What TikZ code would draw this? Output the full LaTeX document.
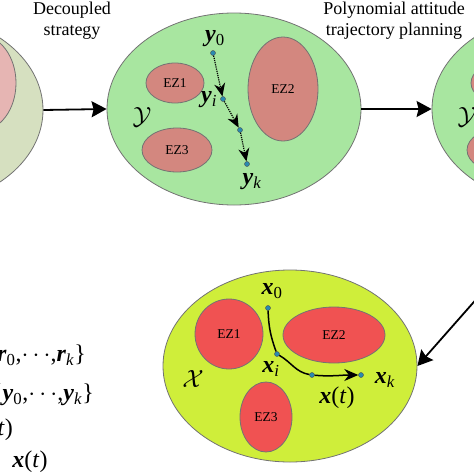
\documentclass[tikz,border=0pt]{standalone}
\usepackage{fontspec}
\setmainfont{Liberation Serif}
\usetikzlibrary{shapes.geometric, arrows.meta}

\definecolor{paleSpace}{HTML}{D6E0C0}
\definecolor{paleZone}{HTML}{E6B5B3}
\definecolor{ySpace}{HTML}{A8E6A0}
\definecolor{yZone}{HTML}{D3877F}
\definecolor{xSpace}{HTML}{CFEE3A}
\definecolor{xZone}{HTML}{F05252}
\definecolor{dotBlue}{HTML}{2A8AB0}

\newcommand{\vb}[1]{\textbf{\textit{#1}}}

\begin{document}
\begin{tikzpicture}[x=1pt, y=-1pt,
    space/.style={ellipse, draw=black!55, line width=0.8pt, minimum width=254pt, minimum height=192pt},
    zone/.style={ellipse, draw=black!55, line width=0.8pt, inner sep=0pt, font=\fontsize{13.5}{13.5}\selectfont},
    flow/.style={line width=1.8pt, -{Stealth[length=15pt,width=16pt,inset=2pt]}},
    dot/.style={circle, fill=dotBlue, draw=black!70, line width=0.4pt, inner sep=0pt, minimum size=5pt},
    vec/.style={font=\fontsize{24}{24}\selectfont, inner sep=0pt},
    title/.style={font=\fontsize{18}{21}\selectfont, align=center, inner sep=0pt},
    ytraj/.style={densely dotted, line width=1.2pt, -{Stealth[length=13pt,width=11pt]}},
    xtraj/.style={line width=1.5pt, -{Stealth[length=14pt,width=12pt]}}]

    \useasboundingbox (0,0) rectangle (474,474);
    \clip (0,0) rectangle (474,474);

    % titles
    \node[title] (t1) at (72,21) {Decoupled\\strategy};
    \node[title] (t2) at (394,21) {Polynomial attitude\\trajectory planning};

    % spaces
    \node[space, fill=paleSpace] (spaceA) at (-84,110) {};
    \node[zone, fill=paleZone, minimum width=72pt, minimum height=96pt] (pz) at (-20,83) {};

    \node[space, fill=ySpace] (spaceB) at (234,109) {};
    \node[zone, fill=yZone, minimum width=58pt, minimum height=40pt] (ez1) at (175,83) {EZ1};
    \node[zone, fill=yZone, minimum width=70pt, minimum height=104pt] (ez2) at (283,89) {EZ2};
    \node[zone, fill=yZone, minimum width=70pt, minimum height=44pt] (ez3) at (177,150) {EZ3};
    \node[font=\fontsize{25}{25}\selectfont] (ly) at (142,117) {$\mathcal{Y}$};

    \node[space, fill=ySpace] (spaceC) at (559,109) {};
    \node[zone, fill=yZone, minimum width=58pt, minimum height=40pt] (cz1) at (500,83) {};
    \node[zone, fill=yZone, minimum width=70pt, minimum height=44pt] (cz3) at (502,150) {};
    \node[font=\fontsize{25}{25}\selectfont] (ly2) at (467,117) {$\mathcal{Y}$};

    \node[space, fill=xSpace] (spaceX) at (290,366) {};
    \node[zone, fill=xZone, minimum width=68pt, minimum height=70pt] (xz1) at (229,334) {EZ1};
    \node[zone, fill=xZone, minimum width=102pt, minimum height=56pt] (xz2) at (334,335) {EZ2};
    \node[zone, fill=xZone, minimum width=52pt, minimum height=70pt] (xz3) at (266,417) {EZ3};
    \node[font=\fontsize{25}{25}\selectfont] (lx) at (193,379) {$\mathcal{X}$};

    \draw[flow] (spaceA.east) -- (spaceB.west);
    \draw[flow] (spaceB.east) -- (spaceC.west);
    \draw[flow] (spaceC.south) -- (spaceX.east);

    % path in Y
    \node[dot] (y0) at (213,53) {};
    \node[dot] (yi) at (223,99) {};
    \node[dot] (ym) at (240,130) {};
    \node[dot] (yk) at (247,164) {};
    \draw[ytraj] (y0) -- (yi);
    \draw[ytraj] (yi) -- (ym);
    \draw[ytraj] (ym) -- (yk);
    \node[vec] (ly0) at (215,39) {\vb{y}\textsubscript{0}};
    \node[vec] (lyi) at (209,100) {\vb{y}\textsubscript{\textit{i}}};
    \node[vec] (lyk) at (252,182) {\vb{y}\textsubscript{\textit{k}}};

    % path in X
    \node[dot] (x0) at (268,308) {};
    \node[dot] (xi) at (277,354) {};
    \node[dot] (xm) at (312,375) {};
    \node[dot] (xk) at (361,375) {};
    \draw[xtraj] (x0) to[out=-88,in=110] (xi) to[out=-30,in=170] (xm) to[out=-5,in=180] (xk);
    \node[vec] (lx0) at (272,291) {\vb{x}\textsubscript{0}};
    \node[vec] (lxi) at (271,369) {\vb{x}\textsubscript{\textit{i}}};
    \node[vec] (lxk) at (385,380) {\vb{x}\textsubscript{\textit{k}}};
    \node[vec] (lxt) at (337,398) {\vb{x}(\textit{t})};

    % left text
    \node[vec, anchor=east] (s1) at (86,355) {\{\vb{r}\textsubscript{0},$\cdots$,\vb{r}\textsubscript{\textit{k}}\}};
    \node[vec, anchor=east] (s2) at (94,395) {\{\vb{y}\textsubscript{0},$\cdots$,\vb{y}\textsubscript{\textit{k}}\}};
    \node[vec, anchor=east] (s3) at (13,430) {\vb{x}(\textit{t})};
    \node[vec] (s4) at (30,462) {\vb{x}(\textit{t})};
\end{tikzpicture}
\end{document}
